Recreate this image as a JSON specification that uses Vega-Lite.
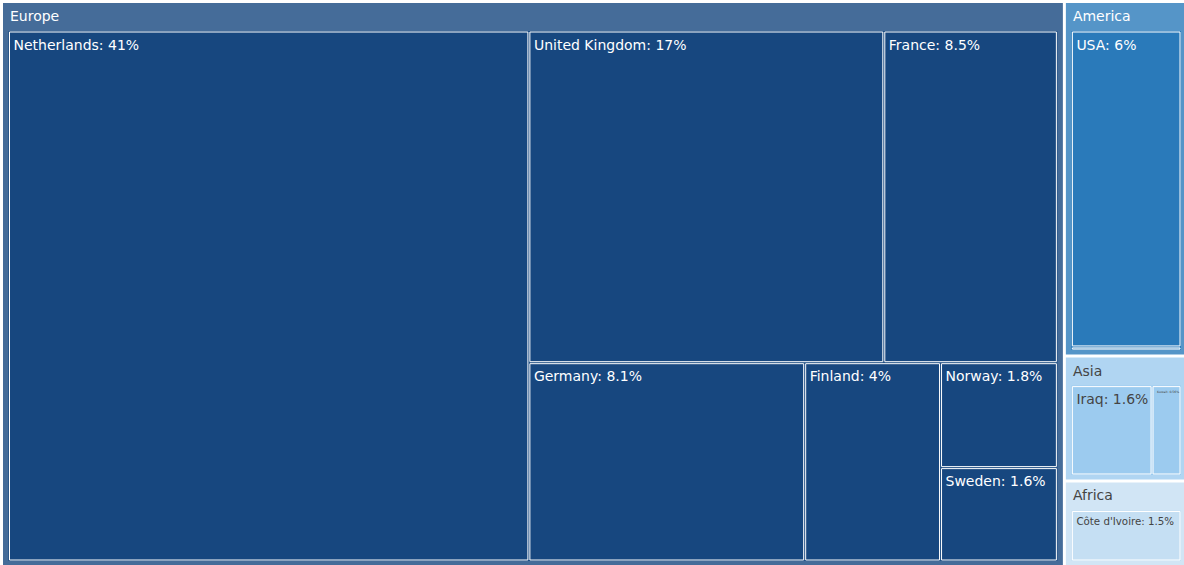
{
  "$schema": "https://vega.github.io/schema/vega-lite/v6.json",
  "width": 1184,
  "height": 565,
  "autosize": {"type": "fit", "contains": "padding"},
  "padding": 0,
  "background": "#ffffff",
  "config": {"view": {"stroke": null}},
  "data": {
    "values": [
      {"region": "Europe", "country": "Netherlands", "path": "1", "value": 40.95},
      {"region": "Europe", "country": "United Kingdom", "path": "2.1.1", "value": 17.48},
      {"region": "Europe", "country": "France", "path": "2.1.2", "value": 8.548},
      {"region": "Europe", "country": "Germany", "path": "2.2.1", "value": 8.12},
      {"region": "Europe", "country": "Finland", "path": "2.2.2", "value": 4.0},
      {"region": "Europe", "country": "Norway", "path": "2.2.3.1", "value": 1.82},
      {"region": "Europe", "country": "Sweden", "path": "2.2.3.2", "value": 1.62},
      {"region": "America", "country": "USA", "path": "1", "value": 5.96},
      {"region": "America", "country": "Other", "path": "2", "value": 0.06},
      {"region": "Asia", "country": "Iraq", "path": "1", "value": 1.56},
      {"region": "Asia", "country": "Kuwait", "path": "2", "value": 0.56},
      {"region": "Africa", "country": "Côte d'Ivoire", "path": "1", "value": 1.46}
    ]
  },
  "transform": [
    {"joinaggregate": [{"op": "sum", "field": "value", "as": "total"}]},
    {"calculate": "datum.region === 'Europe' ? 'A' : 'B'", "as": "col"},
    {"calculate": "indexof(['Europe','America','Asia','Africa'], datum.region)", "as": "rord"},
    {"stack": "value", "groupby": [], "sort": [{"field": "rord", "order": "ascending"}, {"field": "path", "order": "ascending"}], "as": ["c0", "c1"]},
    {"joinaggregate": [{"op": "min", "field": "c0", "as": "cA"}, {"op": "max", "field": "c1", "as": "cB"}], "groupby": ["col"]},
    {"stack": "value", "groupby": ["col"], "sort": [{"field": "rord", "order": "ascending"}, {"field": "path", "order": "ascending"}], "as": ["r0", "r1"]},
    {"joinaggregate": [{"op": "sum", "field": "value", "as": "colSum"}], "groupby": ["col"]},
    {"joinaggregate": [{"op": "min", "field": "r0", "as": "rA"}, {"op": "max", "field": "r1", "as": "rB"}], "groupby": ["region"]},
    {"calculate": "1.5 + 1186.5 * datum.cA / datum.total", "as": "X0"},
    {"calculate": "1.5 + 1186.5 * datum.cB / datum.total", "as": "X1"},
    {"calculate": "1.5 + 565.5 * datum.rA / datum.colSum", "as": "Y0"},
    {"calculate": "1.5 + 565.5 * datum.rB / datum.colSum", "as": "Y1"},
    {"calculate": "datum.X0 + 1.5", "as": "RX0"},
    {"calculate": "datum.X1 - 1.5", "as": "RX1"},
    {"calculate": "datum.Y0 + 1.5", "as": "RY0"},
    {"calculate": "datum.Y1 - 1.5", "as": "RY1"},
    {"calculate": "datum.RX0 + 5.5", "as": "x0"},
    {"calculate": "datum.RX1 - 5.5", "as": "x1"},
    {"calculate": "datum.RY0 + 28", "as": "y0"},
    {"calculate": "datum.RY1 - 4.5", "as": "y1"},

    {"calculate": "datum.region", "as": "pk1"},
    {"calculate": "datum.region + ':' + substring(datum.path, 0, 1)", "as": "k1"},
    {"stack": "value", "groupby": ["pk1"], "sort": [{"field": "path", "order": "ascending"}], "as": ["s10", "s11"]},
    {"joinaggregate": [{"op": "min", "field": "s10", "as": "g10"}, {"op": "max", "field": "s11", "as": "g11"}], "groupby": ["k1"]},
    {"joinaggregate": [{"op": "sum", "field": "value", "as": "p1"}], "groupby": ["pk1"]},
    {"calculate": "datum.x1 - datum.x0", "as": "w1"},
    {"calculate": "datum.y1 - datum.y0", "as": "h1"},
    {"calculate": "datum.region !== 'America' ? datum.x0 + datum.w1 * datum.g11 / datum.p1 : datum.x1", "as": "x1"},
    {"calculate": "datum.region !== 'America' ? datum.x0 + datum.w1 * datum.g10 / datum.p1 : datum.x0", "as": "x0"},
    {"calculate": "datum.region !== 'America' ? datum.y1 : datum.y0 + datum.h1 * datum.g11 / datum.p1", "as": "y1"},
    {"calculate": "datum.region !== 'America' ? datum.y0 : datum.y0 + datum.h1 * datum.g10 / datum.p1", "as": "y0"},

    {"calculate": "datum.region + ':' + substring(datum.path, 0, 1)", "as": "pk2"},
    {"calculate": "datum.region + ':' + substring(datum.path, 0, 3)", "as": "k2"},
    {"stack": "value", "groupby": ["pk2"], "sort": [{"field": "path", "order": "ascending"}], "as": ["s20", "s21"]},
    {"joinaggregate": [{"op": "min", "field": "s20", "as": "g20"}, {"op": "max", "field": "s21", "as": "g21"}], "groupby": ["k2"]},
    {"joinaggregate": [{"op": "sum", "field": "value", "as": "p2"}], "groupby": ["pk2"]},
    {"calculate": "datum.x1 - datum.x0", "as": "w2"},
    {"calculate": "datum.y1 - datum.y0", "as": "h2"},
    {"calculate": "datum.region === 'America' ? datum.x0 + datum.w2 * datum.g21 / datum.p2 : datum.x1", "as": "x1"},
    {"calculate": "datum.region === 'America' ? datum.x0 + datum.w2 * datum.g20 / datum.p2 : datum.x0", "as": "x0"},
    {"calculate": "datum.region === 'America' ? datum.y1 : datum.y0 + datum.h2 * datum.g21 / datum.p2", "as": "y1"},
    {"calculate": "datum.region === 'America' ? datum.y0 : datum.y0 + datum.h2 * datum.g20 / datum.p2", "as": "y0"},

    {"calculate": "datum.region + ':' + substring(datum.path, 0, 3)", "as": "pk3"},
    {"calculate": "datum.region + ':' + substring(datum.path, 0, 5)", "as": "k3"},
    {"stack": "value", "groupby": ["pk3"], "sort": [{"field": "path", "order": "ascending"}], "as": ["s30", "s31"]},
    {"joinaggregate": [{"op": "min", "field": "s30", "as": "g30"}, {"op": "max", "field": "s31", "as": "g31"}], "groupby": ["k3"]},
    {"joinaggregate": [{"op": "sum", "field": "value", "as": "p3"}], "groupby": ["pk3"]},
    {"calculate": "datum.x1 - datum.x0", "as": "w3"},
    {"calculate": "datum.y1 - datum.y0", "as": "h3"},
    {"calculate": "datum.region !== 'America' ? datum.x0 + datum.w3 * datum.g31 / datum.p3 : datum.x1", "as": "x1"},
    {"calculate": "datum.region !== 'America' ? datum.x0 + datum.w3 * datum.g30 / datum.p3 : datum.x0", "as": "x0"},
    {"calculate": "datum.region !== 'America' ? datum.y1 : datum.y0 + datum.h3 * datum.g31 / datum.p3", "as": "y1"},
    {"calculate": "datum.region !== 'America' ? datum.y0 : datum.y0 + datum.h3 * datum.g30 / datum.p3", "as": "y0"},

    {"calculate": "datum.region + ':' + substring(datum.path, 0, 5)", "as": "pk4"},
    {"calculate": "datum.region + ':' + substring(datum.path, 0, 7)", "as": "k4"},
    {"stack": "value", "groupby": ["pk4"], "sort": [{"field": "path", "order": "ascending"}], "as": ["s40", "s41"]},
    {"joinaggregate": [{"op": "min", "field": "s40", "as": "g40"}, {"op": "max", "field": "s41", "as": "g41"}], "groupby": ["k4"]},
    {"joinaggregate": [{"op": "sum", "field": "value", "as": "p4"}], "groupby": ["pk4"]},
    {"calculate": "datum.x1 - datum.x0", "as": "w4"},
    {"calculate": "datum.y1 - datum.y0", "as": "h4"},
    {"calculate": "datum.region === 'America' ? datum.x0 + datum.w4 * datum.g41 / datum.p4 : datum.x1", "as": "x1"},
    {"calculate": "datum.region === 'America' ? datum.x0 + datum.w4 * datum.g40 / datum.p4 : datum.x0", "as": "x0"},
    {"calculate": "datum.region === 'America' ? datum.y1 : datum.y0 + datum.h4 * datum.g41 / datum.p4", "as": "y1"},
    {"calculate": "datum.region === 'America' ? datum.y0 : datum.y0 + datum.h4 * datum.g40 / datum.p4", "as": "y0"},

    {"calculate": "datum.country + ': ' + format(datum.value, '.2~') + '%'", "as": "label"},
    {"calculate": "(datum.y1 - datum.y0) < 12 ? 0 : min(14, (datum.x1 - datum.x0 - 8) / (length(datum.label) * 0.52))", "as": "fs"}
  ],
  "layer": [
    {
      "transform": [
        {"aggregate": [
          {"op": "min", "field": "RX0", "as": "RX0"},
          {"op": "max", "field": "RX1", "as": "RX1"},
          {"op": "min", "field": "RY0", "as": "RY0"},
          {"op": "max", "field": "RY1", "as": "RY1"}
        ], "groupby": ["region"]}
      ],
      "mark": {"type": "rect", "opacity": 0.8, "clip": true},
      "encoding": {
        "x": {"field": "RX0", "type": "quantitative", "scale": {"domain": [0, 1184], "nice": false, "zero": false}, "axis": null},
        "x2": {"field": "RX1"},
        "y": {"field": "RY0", "type": "quantitative", "scale": {"domain": [0, 565], "nice": false, "zero": false, "reverse": true}, "axis": null},
        "y2": {"field": "RY1"},
        "color": {"field": "region", "type": "nominal", "scale": {"domain": ["Europe", "America", "Asia", "Africa"], "range": ["#17477f", "#2a7aba", "#9ccbef", "#c5dff3"]}, "legend": null}
      }
    },
    {
      "mark": {"type": "rect", "clip": true},
      "encoding": {
        "x": {"field": "x0", "type": "quantitative"},
        "x2": {"field": "x1"},
        "y": {"field": "y0", "type": "quantitative"},
        "y2": {"field": "y1"},
        "color": {"field": "region", "type": "nominal", "legend": null}
      }
    },
    {
      "transform": [
        {"calculate": "datum.x0 + 1", "as": "bx0"},
        {"calculate": "datum.x1 - 1", "as": "bx1"},
        {"calculate": "datum.y0 + 1", "as": "by0"},
        {"calculate": "datum.y1 - 1", "as": "by1"}
      ],
      "mark": {"type": "rect", "filled": false, "stroke": "#ffffff", "strokeWidth": 1, "clip": true},
      "encoding": {
        "x": {"field": "bx0", "type": "quantitative"},
        "x2": {"field": "bx1"},
        "y": {"field": "by0", "type": "quantitative"},
        "y2": {"field": "by1"}
      }
    },
    {
      "transform": [
        {"aggregate": [
          {"op": "min", "field": "RX0", "as": "RX0"},
          {"op": "min", "field": "RY0", "as": "RY0"}
        ], "groupby": ["region"]},
        {"calculate": "datum.RX0 + 7", "as": "tx"},
        {"calculate": "datum.RY0 + 18", "as": "ty"}
      ],
      "mark": {"type": "text", "align": "left", "baseline": "alphabetic", "font": "DejaVu Sans", "fontSize": 14, "clip": true},
      "encoding": {
        "x": {"field": "tx", "type": "quantitative"},
        "y": {"field": "ty", "type": "quantitative"},
        "text": {"field": "region", "type": "nominal"},
        "color": {"condition": {"test": "datum.region === 'Asia' || datum.region === 'Africa'", "value": "#444444"}, "value": "#ffffff"}
      }
    },
    {
      "transform": [
        {"filter": "datum.fs > 0"},
        {"calculate": "datum.x0 + 5", "as": "tx"},
        {"calculate": "datum.y0 + 4.5 + datum.fs", "as": "ty"}
      ],
      "mark": {"type": "text", "align": "left", "baseline": "alphabetic", "font": "DejaVu Sans", "clip": true},
      "encoding": {
        "x": {"field": "tx", "type": "quantitative"},
        "y": {"field": "ty", "type": "quantitative"},
        "text": {"field": "label", "type": "nominal"},
        "size": {"field": "fs", "type": "quantitative", "scale": null, "legend": null},
        "color": {"condition": {"test": "datum.region === 'Asia' || datum.region === 'Africa'", "value": "#444444"}, "value": "#ffffff"}
      }
    }
  ]
}
